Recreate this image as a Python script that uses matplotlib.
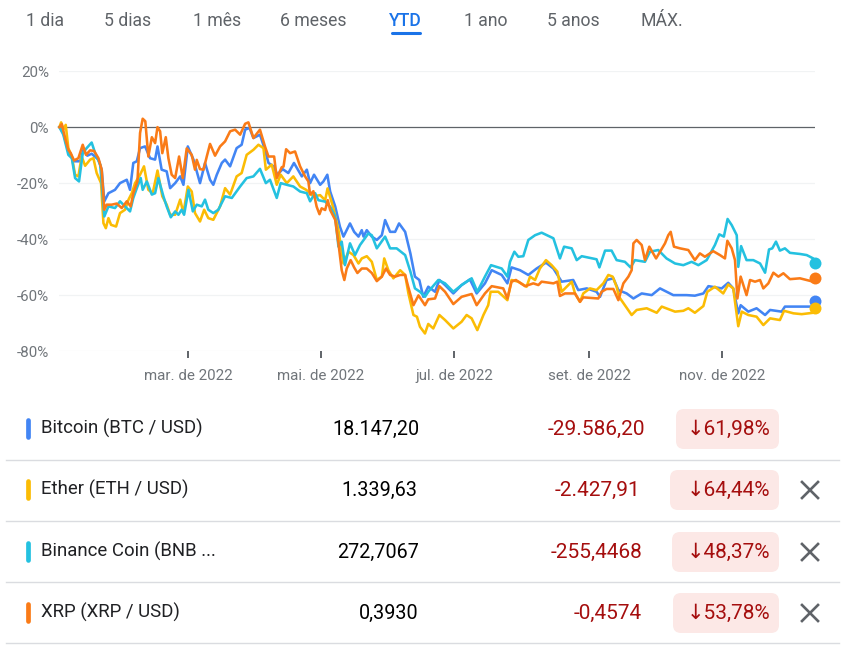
#! /usr/bin/env python

# Google Finance style comparison chart, YTD 2022, with the quote table below
import matplotlib
matplotlib.use("Agg")
import matplotlib.pyplot as plt
from matplotlib.patches import FancyBboxPatch

plt.rcParams['font.family'] = ['Roboto', 'DejaVu Sans']

W, H = 841, 649

tabs = ["1 dia", "5 dias", "1 mês", "6 meses", "YTD", "1 ano", "5 anos", "MÁX."]
y_ticks = [20, 0, -20, -40, -60, -80]
x_tick_days = [59, 120, 181, 243, 304]
x_tick_labels = ["mar. de 2022", "mai. de 2022", "jul. de 2022", "set. de 2022", "nov. de 2022"]

# days since 1 Jan 2022, % change
btc_days = [0,1.8,4.1,6.7,9.5,11,12.8,14.8,17.9,19.4,20.6,22.5,25.5,27.8,30.9,32.4,33.9,35.5,37,39.3,41.6,43.9,45,46.9,49.2,50.8,53.1,55.4,56.9,58.9,61.5,64.5,66.8,69.1,70.6,72.2,74.5,76,78.3,81.3,83.6,85.2,87.2,89,92,94.3,95.9,98.2,100,102.4,105,107.6,111.2,113.5,115,116.8,119.6,121.1,122.9,124.2,126.5,128.7,130.3,133.3,135.2,137.2,138.7,139.5,141,143.3,145.6,147.9,149.4,151.7,154,155.8,158.6,161,163.1,165.1,166.9,169.2,172.3,174.3,176.9,180.7,184.5,188.3,191.4,195.2,198.3,202.9,205.5,207.4,211.3,215.1,218.9,223.2,226.6,230.4,235.7,238,241.9,246.4,248,251,254.1,256.4,260.2,263.3,267.1,271.7,275.5,281.6,287.7,291.5,295.4,297.7,303.8,306.8,309.1,311.4,312.5,316,319.8,323.7,326,331.3,332.8,339.7,345.8,346.4]
btc_vals = [0.1,-2,-8.6,-12.1,-12.1,-8,-10.1,-9.4,-11.5,-15.1,-26.4,-23.5,-22.3,-19.9,-18.7,-22.3,-12.7,-12.1,-7.4,-6.8,-11,-11.5,-6.8,-15.1,-15.7,-21.7,-19.9,-17.5,-20.5,-6.8,-11.5,-19.9,-12.7,-18.7,-20.5,-16.9,-12.7,-11.5,-13.9,-7.4,-6.2,-0.8,-0.2,-3.8,-2.6,-8,-12.7,-13.9,-16.9,-14.9,-16.3,-12.7,-17.5,-15.1,-19.9,-16.9,-20.5,-19.3,-16.9,-22.9,-28.2,-35.5,-39,-34.3,-37.3,-39,-36.7,-39,-36.7,-39,-40.2,-38.5,-33.1,-37.3,-37.3,-34.3,-37.3,-45,-53.3,-54.5,-60.5,-56.9,-58.7,-54.5,-56.3,-59.3,-56.3,-54.3,-59.3,-55.7,-51,-52.7,-55.7,-50,-51,-52.7,-50.4,-48.3,-50.4,-55.1,-54.5,-58.1,-57.5,-58.7,-60.5,-54.5,-53.9,-58.1,-59.3,-61.1,-59.3,-59.9,-57.5,-59.9,-59.9,-60.1,-59.3,-56.7,-57.5,-55.5,-57.5,-66.4,-63.5,-65.8,-64.6,-67,-65.2,-65.8,-64,-64,-64,-61.98]

eth_days = [0,0.8,1.8,2.9,4.1,5.7,7.2,8.7,10.2,11.8,14.1,15.6,17.1,19.1,20.2,21.3,22.5,23.7,26,27.8,30.1,31.7,33.2,34.7,37,38.8,40.8,42.8,45,47.2,49.2,50.8,53.1,55.4,56.9,58.9,60.7,62.2,64.5,66.4,68.3,70.6,73.7,76,78.3,81.3,83.6,85.9,89,91.3,93.6,94.7,97.4,99.7,101.5,104.3,107.3,110.4,113.2,116.5,119.6,121.9,123,125.7,128,130.3,132.6,134.9,137.2,138.7,141,143.3,145.6,147.9,149,150.9,153.2,156.3,158.6,160.1,162.4,164,165.4,167.7,169.2,171.5,174.3,176.9,180.7,184.5,186.8,189.1,191.7,194.5,196.7,197.8,201.3,205.5,207.4,210.5,214.3,215.9,218.2,220.4,223.2,225.8,228.4,230.4,235,236.5,238.8,240.3,243.4,246.4,249.5,251.8,253.8,255.6,256.7,259.4,262.5,264.8,269.4,274,276.3,282.4,286.2,288.5,291.5,295.4,297.2,300.7,304.5,306.8,309.1,311.4,313,316,319.8,322.9,326,330.5,332.4,336.7,340.5,345.8,346.4]
eth_vals = [0.1,1.8,-0.8,0.9,-7.4,-10.4,-16.9,-17.5,-10.4,-13.7,-11.5,-11,-16.3,-19.9,-34.2,-36,-32.4,-34.8,-35.4,-30.6,-29.4,-25.8,-23.5,-19.9,-16.9,-13.9,-22.3,-23.5,-15.4,-24.6,-27.6,-31.2,-31.2,-25.8,-30.6,-21.1,-22.9,-30.6,-33.6,-29.4,-32.4,-33,-28.2,-21.7,-24,-17.5,-16.3,-9.8,-8,-6.2,-7.4,-15.1,-13.3,-20.5,-16.9,-19.9,-17.5,-21.1,-22.3,-24.6,-24.2,-26,-21.8,-28.9,-36.7,-48.6,-44.4,-45.6,-48.6,-46.8,-46,-48,-54.5,-53.3,-46.8,-51,-53.9,-51,-52.7,-59.3,-67,-67.6,-71.2,-73.6,-70.2,-71.8,-67,-68.8,-71.8,-69.4,-67,-68.2,-72.4,-67,-63.5,-58.7,-58.7,-61.7,-54.5,-55.1,-56.9,-53.3,-54.5,-50.4,-47.4,-49.2,-51.5,-58.7,-55.1,-59.3,-62.3,-59.3,-57.5,-58.1,-55.7,-52.7,-53.3,-56.9,-60.5,-63.5,-67,-65.2,-64.6,-66.2,-64,-65.8,-65.5,-64.6,-66.2,-63.8,-58.7,-56.9,-59.3,-56.1,-57.5,-71,-65.8,-67,-67.6,-70.6,-68.2,-68.8,-65.5,-66.4,-66.7,-66.2,-64.44]

bnb_days = [0,1.8,4.1,5.7,7.2,9,10.7,12.5,14.8,16.4,18.7,19.4,20.6,22.5,25.5,27.8,30.1,32.4,33.9,35.8,37.3,38.2,40.1,42.4,43.9,45.4,47.7,49.2,51.1,53.1,54.6,56.1,57.2,59.2,61.2,63,65.3,66.8,68.3,70.6,72.9,76,79.1,82.9,85.9,89,92,94.7,96.6,99.7,101.5,104.3,107.3,110.4,113.5,115,117.3,118.8,121.9,124.2,126.5,128,129.5,131,133.3,135.6,137.9,141.7,143.3,145.6,149.4,151.7,154.7,158.6,161,163.1,165.4,167.7,169.2,173.8,176.9,180.7,184.5,189.1,191.7,195.2,198,202.9,205.5,206.7,208.7,210.5,212.8,215.1,218.2,221.2,226.6,229.6,231.5,235,237.3,239.6,246.4,247.7,250.3,253.3,255.6,259.4,262,264,268.6,270.9,274.7,278.5,282.4,286.2,290,293.1,296.9,300.7,302.7,304.8,306.5,308.4,310.7,311.4,312.7,315.2,318.3,321.4,323.7,325.5,327,328.7,330.5,332.8,335.1,339.7,342.8,345.8,346.4]
bnb_vals = [0.1,-2.6,-9.8,-11,-18.1,-19.3,-9.2,-7.4,-5.4,-9.2,-13.3,-19.9,-31.8,-28.2,-28.8,-26.4,-28.2,-30,-25.2,-21.1,-18.1,-22.3,-19.3,-24,-23.5,-18.1,-24.6,-28.2,-32.1,-30,-31.2,-29.4,-31.2,-22.3,-30,-27.6,-28.2,-25.8,-29.4,-30.6,-29.4,-24.6,-25.2,-21.1,-18.1,-17.5,-14.8,-19.9,-18.7,-25.2,-19.9,-20.5,-21.1,-22.9,-23.5,-26.4,-23.5,-26,-26.5,-28.3,-31.9,-42.6,-40.8,-49.2,-41.4,-45.6,-42,-37.9,-38.5,-43.2,-39,-43.2,-43.2,-45.6,-51.5,-57.5,-58.7,-60.5,-58.7,-54.5,-55.7,-58.7,-56.3,-53.9,-58.7,-53.3,-49.2,-50.4,-53.3,-48,-44.4,-46.2,-46,-40.2,-38.5,-37.6,-39.6,-46.8,-42.6,-43.2,-47.4,-46,-47.1,-50,-44,-44,-47.4,-48,-50,-47.4,-48,-44.4,-43.8,-46.8,-48.6,-49.2,-48,-49.2,-47.4,-42,-38.2,-39,-32.7,-34.9,-38.5,-49.8,-42.4,-47.4,-47.4,-48.6,-51.9,-43.6,-43.2,-40.8,-44,-43.2,-44.8,-45.2,-45.6,-46.8,-48.37]

xrp_days = [0,1.1,2.6,4.1,5.2,6.7,8.7,10.7,12.2,14.1,15.9,17.9,19.4,20.6,21.7,24,26.3,28.6,30.9,32.7,33.9,35.8,37,38.2,39.4,40.8,42.4,43.9,45,46.2,47.2,48.8,50,51.5,53.1,54.9,56.6,58.4,60.7,62.2,63,64.5,66.1,67.6,69.1,71.4,73.7,76,78.3,80.6,82.9,85.2,86.7,89,92,94.3,95.9,98.5,99.7,102,102.8,104,105.8,108.1,110.4,112.7,114.2,115,116.5,118,119.3,120.3,121.9,123.1,124.2,126.5,128,129.5,130.7,131.8,133.6,135.2,136.7,138.7,141,143.3,145.6,147.9,149.8,151.7,154,156.3,158.6,160,162.4,164.7,167.7,169.2,172.3,174.3,176.9,180.7,184.5,189.1,191.4,195.2,198.3,203.6,205.5,207.4,209.4,213.6,217.4,219.7,221.2,226.6,228.4,229.6,231.9,236.5,238.8,240.3,247.2,248.7,251,254.1,256.4,258.7,261,262.5,263.3,264.8,267.1,268.6,270.6,273.7,277.8,279.3,280.4,281.9,284.7,288.5,291.5,293.8,296.1,299.9,303,305.3,306.4,308.4,309.9,311,312.5,315.2,316.8,319.1,321.4,322.9,325.2,327.5,329.8,332.1,335.1,339.7,345.8,346.4]
xrp_vals = [0.1,1.2,-3.8,-8,-9.2,-11.8,-11,-6.2,-9.8,-8.2,-8.4,-11,-15.1,-29.4,-27.6,-27.6,-27.2,-28.8,-26.4,-28.2,-23.5,-19.3,-2,3.1,2.2,-10.4,-3.5,-5.6,0.1,-1.4,-9.2,-3.5,-11,-16.9,-18.1,-10.4,-18.1,-7.5,-9.8,-15.1,-11.6,-14.9,-15.1,-10.4,-5.9,-10.1,-6.8,-5,-1.4,-0.8,-2.6,1.3,1.8,-3.8,-0.8,-6.8,-10.4,-10.4,-18.1,-14.2,-14,-7.8,-9.2,-8.6,-13.9,-17.5,-19.3,-24,-22.8,-28.3,-31,-28.9,-29.5,-26,-29.5,-33,-41.4,-51,-54.5,-50.4,-47.4,-50,-52,-50.4,-50.4,-52,-54.9,-53.3,-50.4,-52.7,-53.3,-52.7,-52.7,-56.9,-63.5,-60,-63.5,-61.4,-61.1,-56.7,-58.7,-63.1,-60.5,-59.5,-63.5,-59.3,-56.7,-57.5,-61.1,-55.1,-54.5,-56.7,-55.7,-56.3,-55.1,-55.7,-55.1,-60.2,-59.3,-59.3,-62.3,-60.7,-61.1,-58.7,-57.7,-57.7,-61.7,-55.7,-53.3,-51,-41.4,-40.2,-42,-47.4,-42.6,-46.8,-41.4,-38.5,-37.3,-42.6,-43.2,-43.8,-47.4,-45,-46.2,-44.2,-45.6,-46.8,-40.5,-43.2,-47.4,-61.1,-53.3,-59.9,-54.5,-55.1,-54.5,-57.5,-55.7,-51.9,-53.3,-52.1,-54.2,-53.9,-55.1,-53.78]

btc_color = "#4285f4"
eth_color = "#fbbc04"
bnb_color = "#24c1e0"
xrp_color = "#fa7b17"

row_names = ["Bitcoin (BTC / USD)", "Ether (ETH / USD)", "Binance Coin (BNB ...", "XRP (XRP / USD)"]
row_prices = ["18.147,20", "1.339,63", "272,7067", "0,3930"]
row_changes = ["-29.586,20", "-2.427,91", "-255,4468", "-0,4574"]
row_pcts = ["↓61,98%", "↓64,44%", "↓48,37%", "↓53,78%"]
row_colors = [btc_color, eth_color, bnb_color, xrp_color]

fig = plt.figure(figsize=(W / 100, H / 100), dpi=100, facecolor="white")

# pixel overlay for tabs and table
page = fig.add_axes([0, 0, 1, 1], zorder=0)
page.set_xlim(0, W)
page.set_ylim(H, 0)
page.axis("off")

tab_x = [26, 104, 193, 280, 389, 464, 547, 641]
for label, x in zip(tabs, tab_x):
    active = label == "YTD"
    page.text(x, 21, label, fontsize=12.7, va="center", ha="left",
              color="#1a73e8" if active else "#5f6368",
              fontweight="medium" if active else "normal")
page.plot([392, 420], [33, 33], color="#1a73e8", lw=2.2, solid_capstyle="round")

# table
row_y = [428, 489, 551, 612]
pill_left = [676, 670, 672, 673]
price_right = [420, 417, 419, 419]
change_right = [645, 640, 642, 642]
for i in range(4):
    y = row_y[i]
    page.plot([28, 28], [y - 8, y + 9], color=row_colors[i], lw=3.4, solid_capstyle="round")
    page.text(41, y, row_names[i], fontsize=13.4, va="center", color="#202124")
    page.text(price_right[i], y + 1, row_prices[i], fontsize=14.2, va="center", ha="right", color="#000000")
    page.text(change_right[i], y + 1, row_changes[i], fontsize=15, va="center", ha="right", color="#a50e0e")
    pad = 8
    page.add_patch(FancyBboxPatch((pill_left[i] + pad, y - 19 + pad), 779 - pill_left[i] - 2 * pad, 40 - 2 * pad,
                                  boxstyle="round,pad=%d,rounding_size=%d" % (pad, pad),
                                  fc="#fce8e6", ec="none"))
    page.text(770, y + 1, row_pcts[i], fontsize=15, va="center", ha="right", color="#a50e0e")
    if i > 0:
        for dx in (-8, 8):
            page.plot([810 - dx, 810 + dx], [y - 8 + 1, y + 8 + 1], color="#5f6368", lw=1.9)

for y in [460, 520.5, 582, 643]:
    page.plot([6, 839], [y, y], color="#dadce0", lw=1)

# chart area, pixel box 59.4..815 x 71.4..351.4
ax = fig.add_axes([59.4 / W, 1 - 351.4 / H, (815 - 59.4) / W, 280 / H], zorder=1)
ax.patch.set_alpha(0)
ax.set_xlim(0, 346.6)
ax.set_ylim(-80, 20)
for s in ax.spines.values():
    s.set_visible(False)

for v in y_ticks:
    ax.axhline(v, color="#5f6368" if v == 0 else "#f1f3f4", lw=0.9, zorder=1 if v else 2)

ax.set_yticks(y_ticks)
ax.set_yticklabels(["%d%%" % v for v in y_ticks], fontsize=10.9, color="#70757a")
ax.tick_params(axis="y", length=0, pad=7.5)
ax.set_xticks(x_tick_days)
ax.set_xticklabels(x_tick_labels, fontsize=10.9, color="#70757a")
ax.tick_params(axis="x", length=5, width=1.4, color="#5f6368", pad=7.5)

series = [(btc_days, btc_vals, btc_color), (eth_days, eth_vals, eth_color),
          (bnb_days, bnb_vals, bnb_color), (xrp_days, xrp_vals, xrp_color)]
for days, vals, color in series:
    ax.plot(days, vals, color=color, lw=1.85, zorder=3, clip_on=False, solid_joinstyle="round")
for days, vals, color in series:
    ax.plot(days[-1], vals[-1], "o", color=color, ms=8.6, mec="none", zorder=4, clip_on=False)

fig.savefig("out.png", dpi=100)
